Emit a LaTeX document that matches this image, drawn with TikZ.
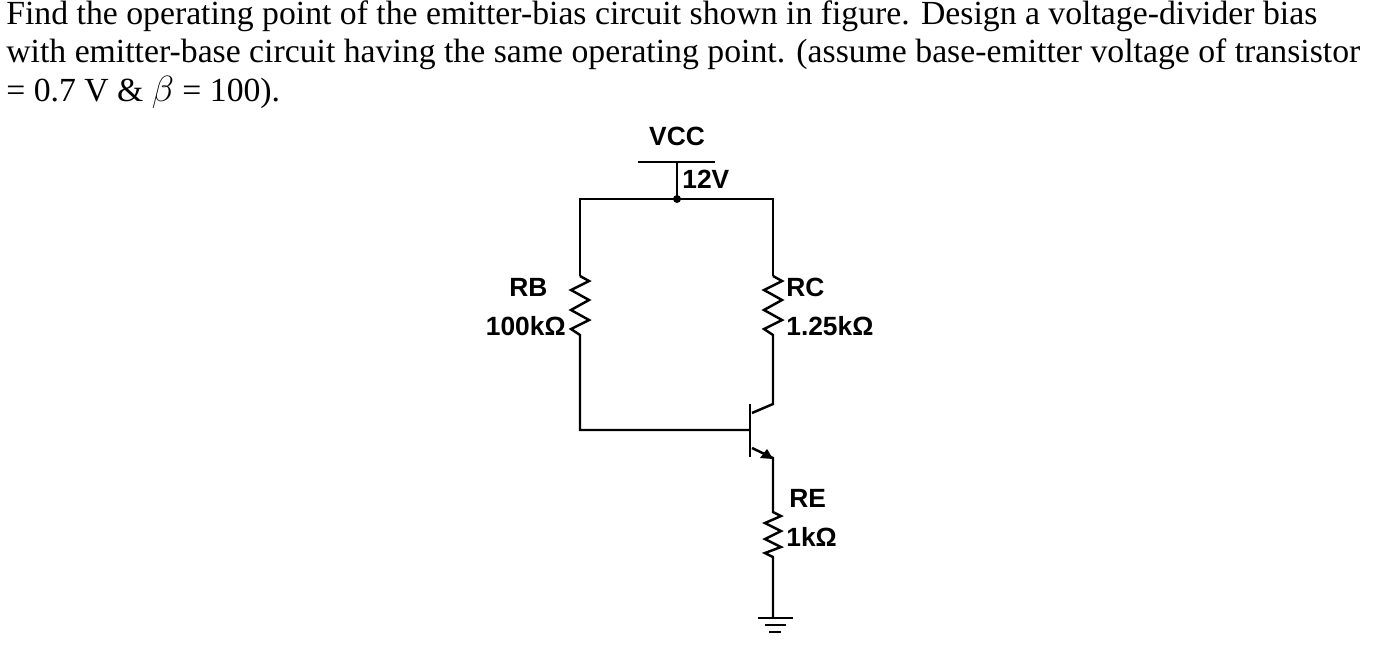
\documentclass[tikz,border=0pt]{standalone}
\usepackage{fontspec}
\setmainfont{Liberation Serif}
\newfontfamily\lab{Liberation Sans}
\begin{document}
\begin{tikzpicture}[x=0.02cm,y=-0.02cm,
  wire/.style={line width=1.4pt},
  lbl/.style={font=\lab\fontsize{15}{15}\selectfont\bfseries, inner sep=0pt},
  ttl/.style={font=\fontsize{19.2}{19.2}\selectfont, inner sep=0pt, anchor=base west}]
\useasboundingbox (0,0) rectangle (1375,660);
% question text
\node[ttl] (l1) at (6,24) {Find the operating point of the emitter-bias circuit shown in figure. Design a voltage-divider bias};
\node[ttl] (l2) at (6,62) {with emitter-base circuit having the same operating point. (assume base-emitter voltage of transistor};
\node[ttl] (l3) at (6,101) {= 0.7 V \& $\beta$ = 100).};
% supply
\coordinate (vs) at (677,162);
\coordinate (top) at (677,199);
\draw[line width=1pt] (638,162) -- (715,162);
\draw[wire] (vs) -- (top);
\fill (top) circle (4);
\node[lbl, anchor=base] (vcc) at (677,145) {VCC};
\node[lbl, anchor=base west] (v12) at (682,188) {12V};
% top rail
\draw[wire] (580,276) -- (580,199) -- (773,199) -- (773,276);
% RB
\draw[wire] (580,276) -- (589,281) -- (571,290) -- (589,300) -- (571,310) -- (589,320) -- (571,329) -- (580,335) -- (580,430) -- (750,430);
% RC
\draw[wire] (773,276) -- (782,281) -- (764,290) -- (782,300) -- (764,310) -- (782,320) -- (764,329) -- (773,335) -- (773,404) -- (752,413);
% transistor
\draw[line width=1.6pt] (750,404) -- (750,457);
\draw[wire] (752,448) -- (773,458);
\fill (773,459) -- (760,458) -- (767,449) -- cycle;
% RE
\draw[wire] (773,457) -- (773,512) -- (781,516) -- (765,523) -- (781,531) -- (765,539) -- (781,547) -- (765,553) -- (773,557) -- (773,618);
% ground
\draw[wire] (758,618) -- (793,618);
\draw[wire] (765,625) -- (786,625);
\draw[wire] (769,632) -- (781,632);
% labels
\node[lbl, anchor=base west] (rb) at (509,296) {RB};
\node[lbl, anchor=base east] (rbv) at (566,335) {100kΩ};
\node[lbl, anchor=base west] (rc) at (786,296) {RC};
\node[lbl, anchor=base west] (rcv) at (786,335) {1.25kΩ};
\node[lbl, anchor=base west] (re) at (789,507) {RE};
\node[lbl, anchor=base west] (rev) at (786,546) {1kΩ};
\end{tikzpicture}
\end{document}
